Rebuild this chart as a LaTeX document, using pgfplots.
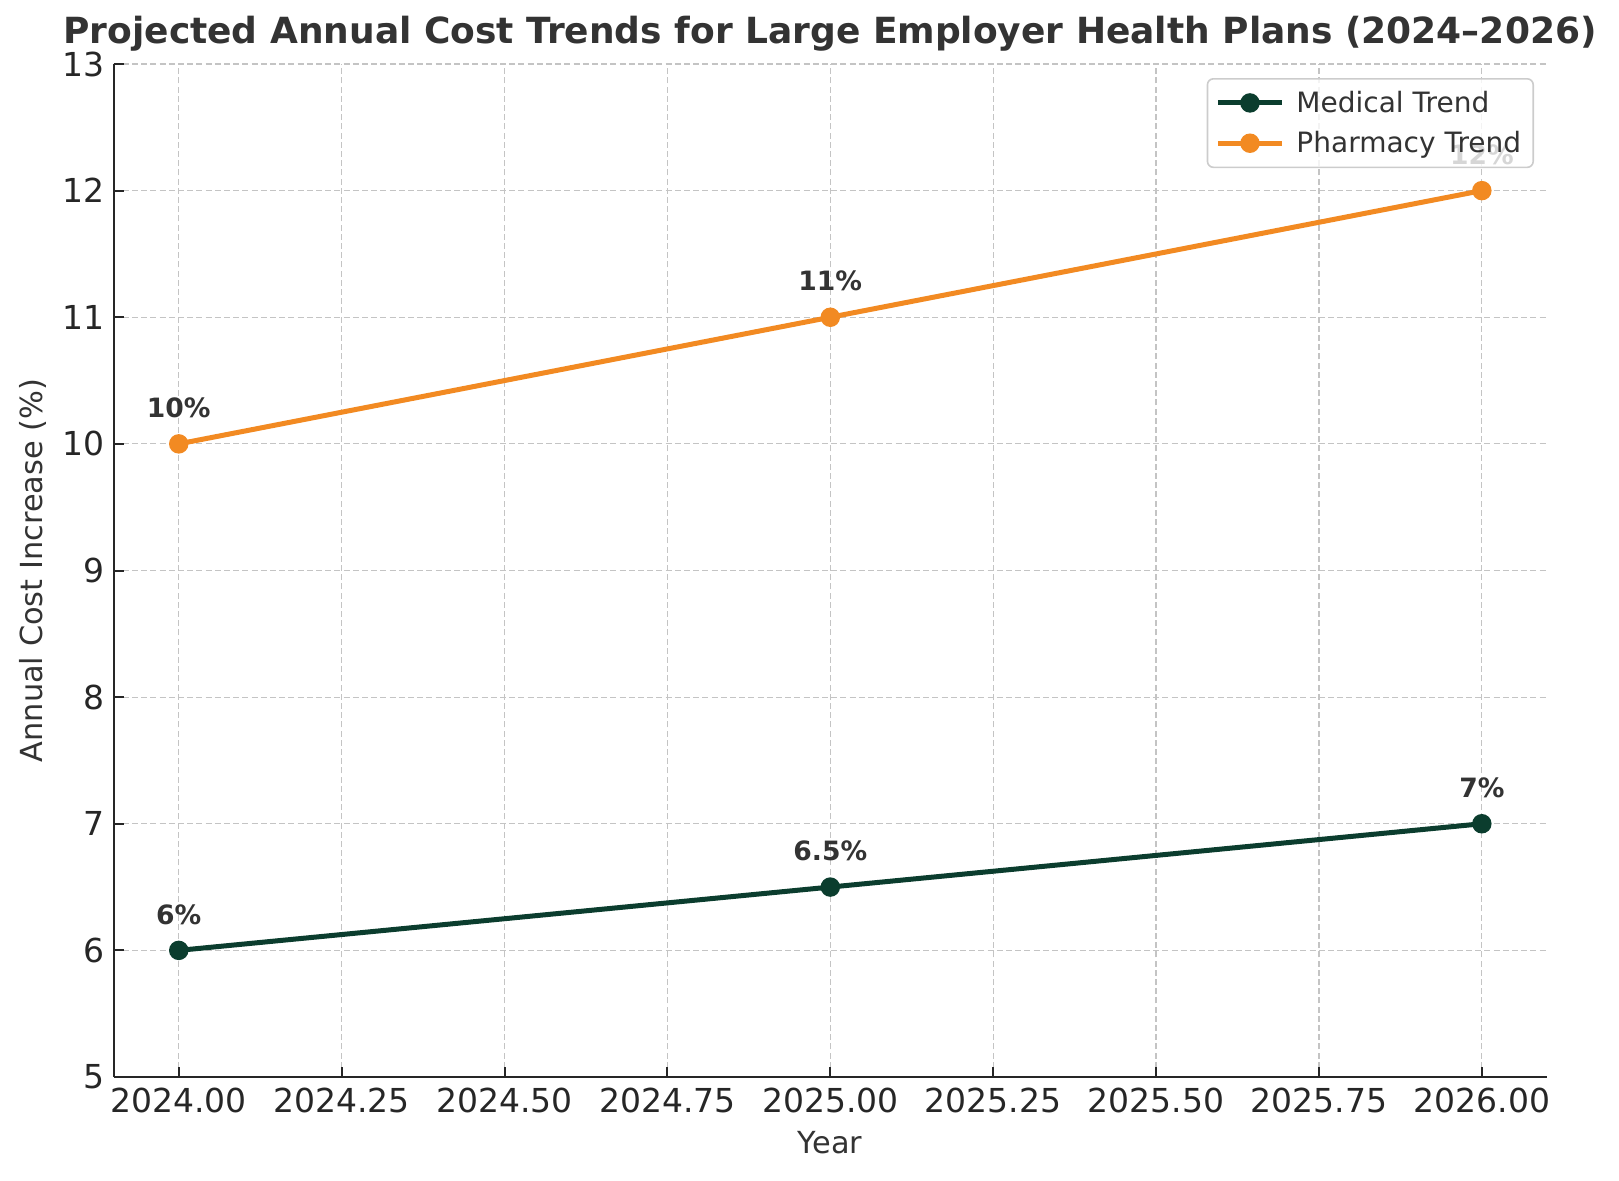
\documentclass[border=0pt]{standalone}
\usepackage{fontspec}
\setmainfont{DejaVu Sans}
\usepackage{pgfplots}
\pgfplotsset{compat=1.18}
\definecolor{medgreen}{HTML}{0B3D2E}
\definecolor{pharmorange}{HTML}{F28A22}
\definecolor{txt}{HTML}{333333}
\definecolor{ticktxt}{HTML}{262626}
\definecolor{gridgray}{HTML}{C4C4C4}

\begin{document}
\begin{tikzpicture}
\useasboundingbox (0,0) rectangle (809.5pt,590pt);
\begin{axis}[
  at={(56.8pt,51.5pt)}, anchor=south west,
  scale only axis, width=716.7pt, height=506.5pt,
  xmin=2023.9, xmax=2026.1, ymin=5, ymax=13,
  xtick={2024,2024.25,2024.5,2024.75,2025,2025.25,2025.5,2025.75,2026},
  xticklabels={2024.00,2024.25,2024.50,2024.75,2025.00,2025.25,2025.50,2025.75,2026.00},
  ytick={5,6,7,8,9,10,11,12,13},
  yticklabels={5,6,7,8,9,10,11,12,13},
  axis x line*=bottom, axis y line*=left,
  axis line style={line width=1pt, color=ticktxt, -},
  tick align=inside, major tick length=5pt,
  tick style={line width=1pt, color=ticktxt},
  grid=major, grid style={gridgray, dash pattern=on 3pt off 1.6pt, line width=0.6pt},
  ticklabel style={font=\fontsize{16.5}{19}\selectfont, text=ticktxt},
  xticklabel style={yshift=-2pt},
  yticklabel style={xshift=-1pt},
  legend cell align=left,
  legend style={at={(1,1)}, anchor=north east, xshift=-6.5pt, yshift=-7pt,
    draw=gray!40, line width=0.8pt, fill=white, fill opacity=0.8, text opacity=1,
    rounded corners=3pt, font=\fontsize{14}{16}\selectfont, text=txt,
    inner xsep=4pt, inner ysep=4pt, row sep=4pt, column sep=4pt},
  legend image code/.code={\draw[mark repeat=2,mark phase=2, fill opacity=1, draw opacity=1]
    plot coordinates {(0pt,0pt) (16pt,0pt) (32pt,0pt)};},
  nodes near coords={\pgfplotspointmeta},
  point meta=explicit symbolic,
  every node near coord/.append style={anchor=center, yshift=18pt,
    font=\fontsize{13.3}{16}\selectfont\bfseries, text=txt},
]
\addplot[color=medgreen, line width=2.5pt, mark=*, mark size=3.6pt, mark options={solid}]
  table[meta=label] {
  x     y    label
  2024  6    6\%
  2025  6.5  6.5\%
  2026  7    7\%
};
\addlegendentry{Medical Trend}
\addplot[color=pharmorange, line width=2.5pt, mark=*, mark size=3.6pt, mark options={solid}]
  table[meta=label] {
  x     y    label
  2024  10   10\%
  2025  11   11\%
  2026  12   12\%
};
\addlegendentry{Pharmacy Trend}
\end{axis}
\node[font=\fontsize{18}{21}\selectfont\bfseries, text=txt] at (415pt,573pt)
  {Projected Annual Cost Trends for Large Employer Health Plans (2024–2026)};
\node[font=\fontsize{15.2}{18}\selectfont, text=txt, rotate=90] at (16.5pt,304.75pt)
  {Annual Cost Increase (\%)};
\node[font=\fontsize{15.2}{18}\selectfont, text=txt] at (415pt,18.5pt) {Year};
\end{tikzpicture}
\end{document}
